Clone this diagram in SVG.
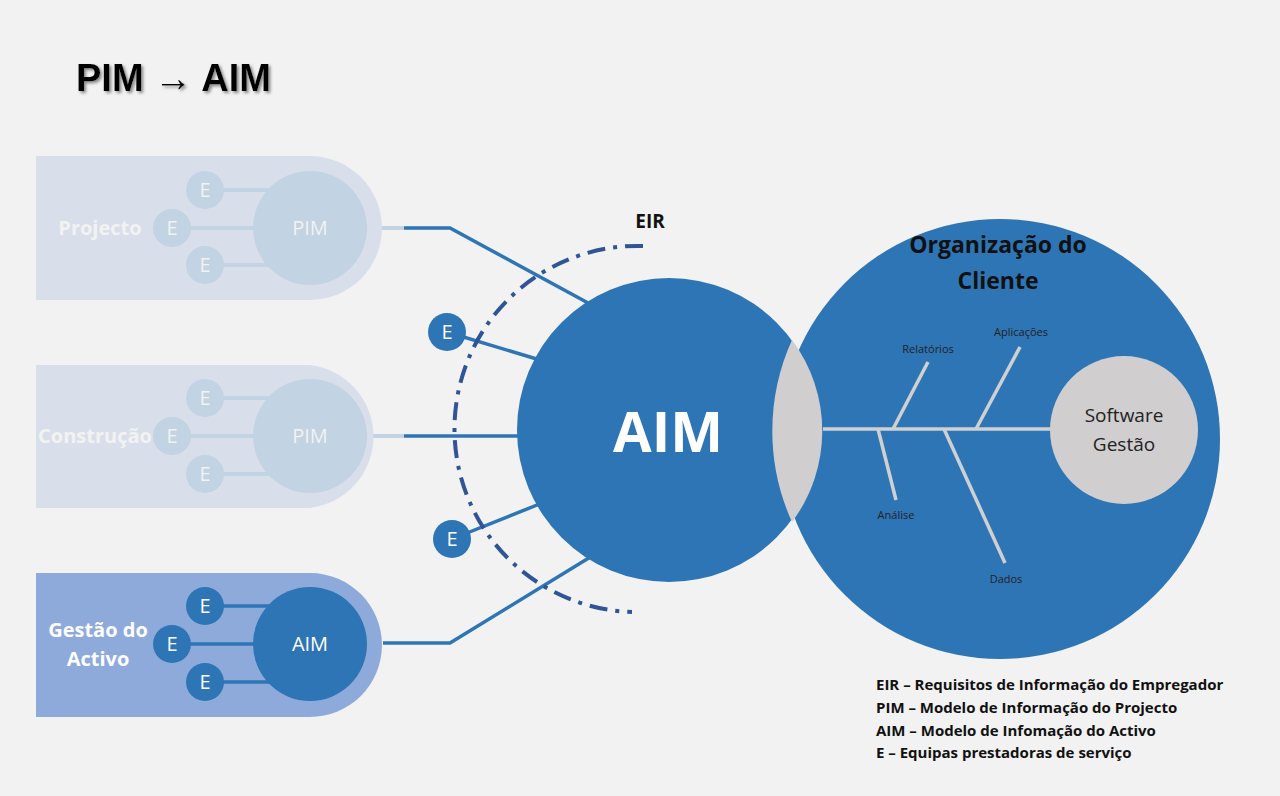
<svg xmlns="http://www.w3.org/2000/svg" width="1280" height="796" viewBox="0 0 1280 796">
<defs>
<style>
text{font-family:"Open Sans","Liberation Sans",sans-serif}
.faint{fill:#d9dfea}
.fc{fill:#c2d3e3}
.ft{fill:#f2f2f2;font-size:20px;text-anchor:middle}
.fl{stroke:#c2d3e3;stroke-width:4}
.blue{fill:#2e75b6}
.bl{stroke:#2e75b6;stroke-width:3.5;fill:none}
.wt{fill:#fff;font-size:20px;text-anchor:middle}
.fish{stroke:#d0d0d0;stroke-width:3.5}
.sm{font-size:11px;fill:#222;text-anchor:middle}
.leg{font-size:15px;font-weight:bold;fill:#111}
</style>
<filter id="sh"><feDropShadow dx="2" dy="2" stdDeviation="1.5" flood-color="#888"/></filter>
</defs>
<rect width="1280" height="796" fill="#f2f2f2"/>
<text x="76" y="91" font-size="38" font-weight="bold" fill="#000" filter="url(#sh)" style="font-family:'Liberation Sans',Arial,sans-serif">PIM → AIM</text>
<g id="connectors">
<line x1="367" y1="228" x2="404" y2="228" class="fl"/>
<polyline points="404,228 450,228 590,304" class="bl"/>
<line x1="367" y1="436" x2="404" y2="436" class="fl"/>
<line x1="404" y1="436" x2="522" y2="436" class="bl"/>
<polyline points="383,643 450,643 592,556" class="bl"/>
<line x1="447" y1="332" x2="540" y2="360" class="bl"/>
<line x1="452" y1="539" x2="542" y2="503" class="bl"/>
<path d="M643,246 A182,182 0 0 0 632,612" fill="none" stroke="#2f5597" stroke-width="4" stroke-dasharray="18,8,4,8"/>
</g>
<g id="projecto">
<path d="M36,156 H310 A72,72 0 0 1 310,300 H36 Z" class="faint"/>
<line x1="205" y1="190" x2="300" y2="190" class="fl"/><line x1="172" y1="228" x2="300" y2="228" class="fl"/><line x1="205" y1="265" x2="300" y2="265" class="fl"/>
<circle cx="310" cy="228" r="57" class="fc"/>
<circle cx="205" cy="190" r="19" class="fc"/><circle cx="172" cy="228" r="19" class="fc"/><circle cx="205" cy="265" r="19" class="fc"/>
<text x="310" y="235" class="ft">PIM</text>
<text x="205" y="197" class="ft">E</text><text x="172" y="235" class="ft">E</text><text x="205" y="272" class="ft">E</text>
<text x="100" y="235" class="ft" font-weight="bold" font-size="19">Projecto</text>
</g>
<g id="construcao">
<path d="M36,365 H310 A72,72 0 0 1 310,508 H36 Z" class="faint"/>
<line x1="205" y1="398" x2="300" y2="398" class="fl"/><line x1="172" y1="436" x2="300" y2="436" class="fl"/><line x1="205" y1="474" x2="300" y2="474" class="fl"/>
<circle cx="310" cy="436" r="57" class="fc"/>
<circle cx="205" cy="398" r="19" class="fc"/><circle cx="172" cy="436" r="19" class="fc"/><circle cx="205" cy="474" r="19" class="fc"/>
<text x="310" y="443" class="ft">PIM</text>
<text x="205" y="405" class="ft">E</text><text x="172" y="443" class="ft">E</text><text x="205" y="481" class="ft">E</text>
<text x="95" y="443" class="ft" font-weight="bold" font-size="19">Construção</text>
</g>
<g id="gestao">
<path d="M36,573 H310 A72,72 0 0 1 310,717 H36 Z" fill="#8eaadb"/>
<line x1="205" y1="606" x2="300" y2="606" class="bl"/><line x1="172" y1="644" x2="300" y2="644" class="bl"/><line x1="205" y1="682" x2="300" y2="682" class="bl"/>
<circle cx="310" cy="644" r="57" class="blue"/>
<circle cx="205" cy="606" r="19" class="blue"/><circle cx="172" cy="644" r="19" class="blue"/><circle cx="205" cy="682" r="19" class="blue"/>
<text x="310" y="651" class="wt">AIM</text>
<text x="205" y="613" class="wt">E</text><text x="172" y="651" class="wt">E</text><text x="205" y="689" class="wt">E</text>
<text x="98" y="637" class="wt" font-weight="bold" font-size="19">Gestão do</text>
<text x="98" y="666" class="wt" font-weight="bold" font-size="19">Activo</text>
</g>
<g id="e1"><circle cx="447" cy="332" r="19" class="blue"/><text x="447" y="339" class="wt">E</text></g>
<g id="e2"><circle cx="452" cy="539" r="19" class="blue"/><text x="452" y="546" class="wt">E</text></g>
<text x="650" y="228" font-size="19" font-weight="bold" fill="#111" text-anchor="middle">EIR</text>
<g id="org">
<circle cx="1000" cy="439" r="220" class="blue"/>
<text x="998" y="253" font-size="23" font-weight="bold" fill="#111" text-anchor="middle">Organização do</text>
<text x="998" y="289" font-size="23" font-weight="bold" fill="#111" text-anchor="middle">Cliente</text>
</g>
<g id="aim">
<circle cx="669" cy="430" r="152" class="blue"/>
<path d="M792,340 A220,220 0 0 0 792,522 A152,152 0 0 0 792,340 Z" fill="#d0cece"/>
<text x="668" y="452" font-size="56" font-weight="bold" fill="#fff" text-anchor="middle">AIM</text>
</g>
<g id="fishbone">
<line x1="823" y1="429" x2="1052" y2="429" class="fish"/>
<line x1="893" y1="429" x2="928" y2="362" class="fish"/>
<line x1="976" y1="429" x2="1020" y2="347" class="fish"/>
<line x1="878" y1="429" x2="896" y2="500" class="fish"/>
<line x1="944" y1="429" x2="1005" y2="563" class="fish"/>
<text x="928" y="353" class="sm">Relatórios</text>
<text x="1021" y="336" class="sm">Aplicações</text>
<text x="896" y="519" class="sm">Análise</text>
<text x="1006" y="583" class="sm">Dados</text>
</g>
<g id="software">
<circle cx="1124" cy="430" r="74" fill="#d0cece"/>
<text x="1124" y="422" font-size="19" fill="#222" text-anchor="middle">Software</text>
<text x="1124" y="451" font-size="19" fill="#222" text-anchor="middle">Gestão</text>
</g>
<g id="legend">
<text x="876" y="690" class="leg">EIR – Requisitos de Informação do Empregador</text>
<text x="876" y="713" class="leg">PIM – Modelo de Informação do Projecto</text>
<text x="876" y="736" class="leg">AIM – Modelo de Infomação do Activo</text>
<text x="876" y="758" class="leg">E – Equipas prestadoras de serviço</text>
</g>
</svg>
